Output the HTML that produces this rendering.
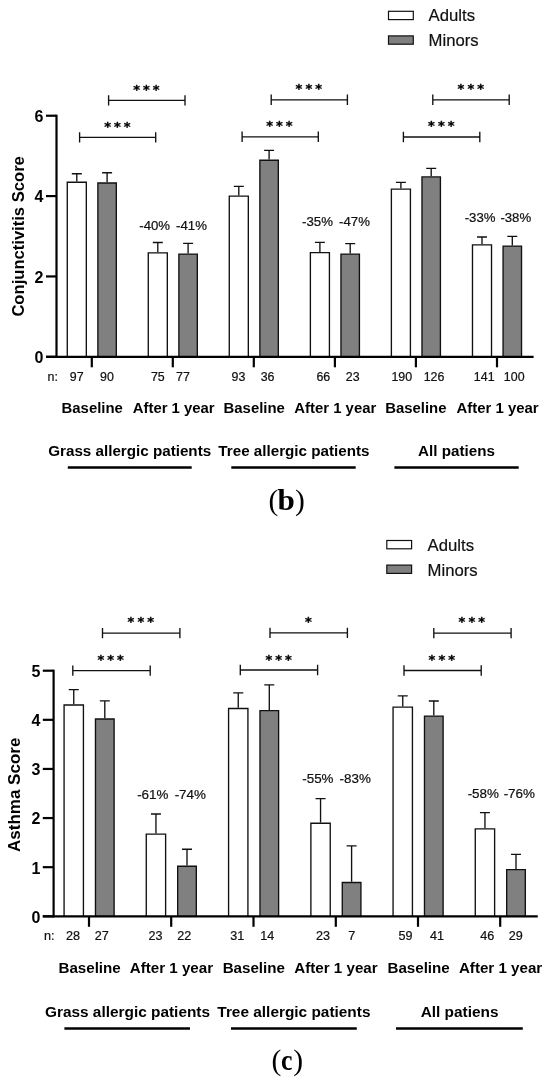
<!DOCTYPE html>
<html lang="en">
<head>
<meta charset="utf-8">
<title>Conjunctivitis and Asthma Score</title>
<style>
html,body{margin:0;padding:0;background:#fff;}
svg{display:block;}
text{font-family:"Liberation Sans",sans-serif;fill:#111;}
.yt{font-size:16px;font-weight:bold;fill:#000;}
.yl{font-size:16.6px;font-weight:bold;fill:#000;}
.xl{font-size:14.9px;font-weight:bold;fill:#000;}
.gl{font-size:15.2px;font-weight:bold;fill:#000;}
.nl{font-size:12.4px;stroke:#111;stroke-width:0.22px;}
.pc{font-size:13.2px;stroke:#111;stroke-width:0.22px;}
.lg{font-size:16.7px;stroke:#111;stroke-width:0.2px;}
.xl.b2{font-size:15.15px;}
.gl.b2{font-size:15.4px;}
.nl.b2{font-size:12.6px;}
.pc.b2{font-size:13.4px;}
.yl.b2{font-size:17px;}
.st{font-family:"DejaVu Sans",sans-serif;font-weight:bold;font-size:13px;letter-spacing:3.0px;fill:#000;stroke:#000;stroke-width:0.35px;}
.cp{font-family:"Liberation Serif",serif;font-size:29.5px;fill:#000;}
.cb{font-weight:bold;}
</style>
</head>
<body>
<svg width="550" height="1083" viewBox="0 0 550 1083">
<rect width="550" height="1083" fill="#ffffff"/>
<path d="M76.80 181.60V173.70M71.80 173.70H81.80" stroke="#111111" stroke-width="1.35" fill="none"/>
<path d="M67.27 356.80V182.28H86.33V356.80" fill="#ffffff" stroke="#111111" stroke-width="1.35"/>
<path d="M107.10 182.30V172.70M102.10 172.70H112.10" stroke="#111111" stroke-width="1.35" fill="none"/>
<path d="M97.88 356.80V182.98H116.33V356.80" fill="#808080" stroke="#111111" stroke-width="1.35"/>
<path d="M157.80 252.20V242.50M152.80 242.50H162.80" stroke="#111111" stroke-width="1.35" fill="none"/>
<path d="M148.28 356.80V252.88H167.32V356.80" fill="#ffffff" stroke="#111111" stroke-width="1.35"/>
<path d="M188.10 253.40V243.30M183.10 243.30H193.10" stroke="#111111" stroke-width="1.35" fill="none"/>
<path d="M178.88 356.80V254.08H197.32V356.80" fill="#808080" stroke="#111111" stroke-width="1.35"/>
<path d="M238.80 195.40V186.40M233.80 186.40H243.80" stroke="#111111" stroke-width="1.35" fill="none"/>
<path d="M229.28 356.80V196.08H248.32V356.80" fill="#ffffff" stroke="#111111" stroke-width="1.35"/>
<path d="M269.10 159.60V150.40M264.10 150.40H274.10" stroke="#111111" stroke-width="1.35" fill="none"/>
<path d="M259.88 356.80V160.28H278.32V356.80" fill="#808080" stroke="#111111" stroke-width="1.35"/>
<path d="M319.90 252.00V242.30M314.90 242.30H324.90" stroke="#111111" stroke-width="1.35" fill="none"/>
<path d="M310.38 356.80V252.68H329.42V356.80" fill="#ffffff" stroke="#111111" stroke-width="1.35"/>
<path d="M350.20 253.40V243.60M345.20 243.60H355.20" stroke="#111111" stroke-width="1.35" fill="none"/>
<path d="M340.97 356.80V254.08H359.42V356.80" fill="#808080" stroke="#111111" stroke-width="1.35"/>
<path d="M400.90 188.50V182.30M395.90 182.30H405.90" stroke="#111111" stroke-width="1.35" fill="none"/>
<path d="M391.38 356.80V189.18H410.42V356.80" fill="#ffffff" stroke="#111111" stroke-width="1.35"/>
<path d="M431.20 176.20V168.40M426.20 168.40H436.20" stroke="#111111" stroke-width="1.35" fill="none"/>
<path d="M421.97 356.80V176.88H440.42V356.80" fill="#808080" stroke="#111111" stroke-width="1.35"/>
<path d="M482.00 244.20V237.00M477.00 237.00H487.00" stroke="#111111" stroke-width="1.35" fill="none"/>
<path d="M472.48 356.80V244.88H491.52V356.80" fill="#ffffff" stroke="#111111" stroke-width="1.35"/>
<path d="M512.30 245.40V236.40M507.30 236.40H517.30" stroke="#111111" stroke-width="1.35" fill="none"/>
<path d="M503.07 356.80V246.08H521.53V356.80" fill="#808080" stroke="#111111" stroke-width="1.35"/>
<path d="M56.50 114.72V357.80" stroke="#000" stroke-width="2.2" fill="none"/>
<path d="M46.00 356.80H533.60" stroke="#000" stroke-width="2.2" fill="none"/>
<path d="M46.00 356.80H56.50" stroke="#000" stroke-width="2.2" fill="none"/>
<text class="yt" x="43.40" y="363.10" text-anchor="end">0</text>
<path d="M46.00 276.44H56.50" stroke="#000" stroke-width="2.2" fill="none"/>
<text class="yt" x="43.40" y="282.74" text-anchor="end">2</text>
<path d="M46.00 196.08H56.50" stroke="#000" stroke-width="2.2" fill="none"/>
<text class="yt" x="43.40" y="202.38" text-anchor="end">4</text>
<path d="M46.00 115.72H56.50" stroke="#000" stroke-width="2.2" fill="none"/>
<text class="yt" x="43.40" y="122.02" text-anchor="end">6</text>
<path d="M91.80 356.80V367.30" stroke="#000" stroke-width="2.2" fill="none"/>
<path d="M172.80 356.80V367.30" stroke="#000" stroke-width="2.2" fill="none"/>
<path d="M253.80 356.80V367.30" stroke="#000" stroke-width="2.2" fill="none"/>
<path d="M334.90 356.80V367.30" stroke="#000" stroke-width="2.2" fill="none"/>
<path d="M415.90 356.80V367.30" stroke="#000" stroke-width="2.2" fill="none"/>
<path d="M497.00 356.80V367.30" stroke="#000" stroke-width="2.2" fill="none"/>
<text class="yl" transform="translate(24.00 236.40) rotate(-90)" text-anchor="middle">Conjunctivitis Score</text>
<path d="M79.60 132.20V142.60M155.70 132.20V142.60M79.60 137.40H155.70" stroke="#111111" stroke-width="1.35" fill="none"/>
<text class="st" x="118.90" y="130.70" text-anchor="middle">***</text>
<path d="M108.60 95.20V105.60M185.00 95.20V105.60M108.60 100.40H185.00" stroke="#111111" stroke-width="1.35" fill="none"/>
<text class="st" x="147.90" y="93.60" text-anchor="middle">***</text>
<path d="M242.10 131.60V142.00M318.30 131.60V142.00M242.10 136.80H318.30" stroke="#111111" stroke-width="1.35" fill="none"/>
<text class="st" x="280.90" y="130.20" text-anchor="middle">***</text>
<path d="M271.20 94.60V105.00M347.40 94.60V105.00M271.20 99.80H347.40" stroke="#111111" stroke-width="1.35" fill="none"/>
<text class="st" x="310.30" y="93.20" text-anchor="middle">***</text>
<path d="M403.40 131.80V142.20M479.80 131.80V142.20M403.40 137.00H479.80" stroke="#111111" stroke-width="1.35" fill="none"/>
<text class="st" x="442.80" y="130.40" text-anchor="middle">***</text>
<path d="M432.80 94.60V105.00M509.20 94.60V105.00M432.80 99.80H509.20" stroke="#111111" stroke-width="1.35" fill="none"/>
<text class="st" x="472.30" y="93.20" text-anchor="middle">***</text>
<text class="pc" x="154.70" y="229.60" text-anchor="middle">-40%</text>
<text class="pc" x="191.50" y="229.60" text-anchor="middle">-41%</text>
<text class="pc" x="317.50" y="225.70" text-anchor="middle">-35%</text>
<text class="pc" x="354.50" y="225.70" text-anchor="middle">-47%</text>
<text class="pc" x="480.10" y="221.70" text-anchor="middle">-33%</text>
<text class="pc" x="515.80" y="221.70" text-anchor="middle">-38%</text>
<text class="nl" x="47.50" y="381.00" text-anchor="start">n:</text>
<text class="nl" x="76.70" y="381.00" text-anchor="middle">97</text>
<text class="nl" x="107.00" y="381.00" text-anchor="middle">90</text>
<text class="nl" x="157.80" y="381.00" text-anchor="middle">75</text>
<text class="nl" x="183.00" y="381.00" text-anchor="middle">77</text>
<text class="nl" x="238.50" y="381.00" text-anchor="middle">93</text>
<text class="nl" x="267.60" y="381.00" text-anchor="middle">36</text>
<text class="nl" x="323.30" y="381.00" text-anchor="middle">66</text>
<text class="nl" x="352.70" y="381.00" text-anchor="middle">23</text>
<text class="nl" x="401.80" y="381.00" text-anchor="middle">190</text>
<text class="nl" x="434.00" y="381.00" text-anchor="middle">126</text>
<text class="nl" x="484.20" y="381.00" text-anchor="middle">141</text>
<text class="nl" x="514.20" y="381.00" text-anchor="middle">100</text>
<text class="xl" x="92.20" y="412.80" text-anchor="middle">Baseline</text>
<text class="xl" x="173.70" y="412.80" text-anchor="middle">After 1 year</text>
<text class="xl" x="254.20" y="412.80" text-anchor="middle">Baseline</text>
<text class="xl" x="335.30" y="412.80" text-anchor="middle">After 1 year</text>
<text class="xl" x="415.80" y="412.80" text-anchor="middle">Baseline</text>
<text class="xl" x="497.60" y="412.80" text-anchor="middle">After 1 year</text>
<text class="gl" x="129.70" y="456.20" text-anchor="middle">Grass allergic patients</text>
<path d="M67.80 467.40H191.70" stroke="#000" stroke-width="2.5" fill="none"/>
<text class="gl" x="293.90" y="456.20" text-anchor="middle">Tree allergic patients</text>
<path d="M231.30 467.40H355.70" stroke="#000" stroke-width="2.5" fill="none"/>
<text class="gl" x="456.50" y="456.20" text-anchor="middle">All patiens</text>
<path d="M394.40 467.40H518.70" stroke="#000" stroke-width="2.5" fill="none"/>
<rect x="388.50" y="11.30" width="24.8" height="8.3" fill="#fff" stroke="#111111" stroke-width="1.2"/>
<rect x="388.50" y="35.90" width="24.8" height="8.3" fill="#808080" stroke="#111111" stroke-width="1.2"/>
<text class="lg" x="428.60" y="20.90" text-anchor="start">Adults</text>
<text class="lg" x="428.60" y="45.90" text-anchor="start">Minors</text>
<text class="cp" x="268.60" y="509.60">(</text>
<text class="cp cb" transform="translate(277.60 509.60) scale(1.08 1)" style="font-size:28.8px">b</text>
<text class="cp" x="295.00" y="509.60">)</text>
<path d="M73.75 704.30V689.60M68.75 689.60H78.75" stroke="#111111" stroke-width="1.35" fill="none"/>
<path d="M64.08 916.30V704.97H83.42V916.30" fill="#ffffff" stroke="#111111" stroke-width="1.35"/>
<path d="M104.80 718.30V700.80M99.80 700.80H109.80" stroke="#111111" stroke-width="1.35" fill="none"/>
<path d="M95.47 916.30V718.97H114.12V916.30" fill="#808080" stroke="#111111" stroke-width="1.35"/>
<path d="M155.95 833.40V814.00M150.95 814.00H160.95" stroke="#111111" stroke-width="1.35" fill="none"/>
<path d="M146.28 916.30V834.07H165.62V916.30" fill="#ffffff" stroke="#111111" stroke-width="1.35"/>
<path d="M187.00 865.60V849.20M182.00 849.20H192.00" stroke="#111111" stroke-width="1.35" fill="none"/>
<path d="M177.68 916.30V866.27H196.32V916.30" fill="#808080" stroke="#111111" stroke-width="1.35"/>
<path d="M238.25 707.80V692.80M233.25 692.80H243.25" stroke="#111111" stroke-width="1.35" fill="none"/>
<path d="M228.58 916.30V708.47H247.92V916.30" fill="#ffffff" stroke="#111111" stroke-width="1.35"/>
<path d="M269.30 710.00V684.90M264.30 684.90H274.30" stroke="#111111" stroke-width="1.35" fill="none"/>
<path d="M259.98 916.30V710.67H278.62V916.30" fill="#808080" stroke="#111111" stroke-width="1.35"/>
<path d="M320.55 822.60V798.60M315.55 798.60H325.55" stroke="#111111" stroke-width="1.35" fill="none"/>
<path d="M310.88 916.30V823.27H330.23V916.30" fill="#ffffff" stroke="#111111" stroke-width="1.35"/>
<path d="M351.60 881.80V845.80M346.60 845.80H356.60" stroke="#111111" stroke-width="1.35" fill="none"/>
<path d="M342.28 916.30V882.47H360.93V916.30" fill="#808080" stroke="#111111" stroke-width="1.35"/>
<path d="M402.75 706.40V695.90M397.75 695.90H407.75" stroke="#111111" stroke-width="1.35" fill="none"/>
<path d="M393.07 916.30V707.07H412.43V916.30" fill="#ffffff" stroke="#111111" stroke-width="1.35"/>
<path d="M433.80 715.40V701.00M428.80 701.00H438.80" stroke="#111111" stroke-width="1.35" fill="none"/>
<path d="M424.48 916.30V716.07H443.12V916.30" fill="#808080" stroke="#111111" stroke-width="1.35"/>
<path d="M484.95 828.20V812.60M479.95 812.60H489.95" stroke="#111111" stroke-width="1.35" fill="none"/>
<path d="M475.27 916.30V828.88H494.62V916.30" fill="#ffffff" stroke="#111111" stroke-width="1.35"/>
<path d="M516.00 869.00V854.30M511.00 854.30H521.00" stroke="#111111" stroke-width="1.35" fill="none"/>
<path d="M506.68 916.30V869.67H525.33V916.30" fill="#808080" stroke="#111111" stroke-width="1.35"/>
<path d="M53.60 669.70V917.30" stroke="#000" stroke-width="2.2" fill="none"/>
<path d="M42.80 916.30H537.80" stroke="#000" stroke-width="2.2" fill="none"/>
<path d="M42.80 916.30H53.60" stroke="#000" stroke-width="2.2" fill="none"/>
<text class="yt" x="40.50" y="922.70" text-anchor="end">0</text>
<path d="M42.80 867.18H53.60" stroke="#000" stroke-width="2.2" fill="none"/>
<text class="yt" x="40.50" y="873.58" text-anchor="end">1</text>
<path d="M42.80 818.06H53.60" stroke="#000" stroke-width="2.2" fill="none"/>
<text class="yt" x="40.50" y="824.46" text-anchor="end">2</text>
<path d="M42.80 768.94H53.60" stroke="#000" stroke-width="2.2" fill="none"/>
<text class="yt" x="40.50" y="775.34" text-anchor="end">3</text>
<path d="M42.80 719.82H53.60" stroke="#000" stroke-width="2.2" fill="none"/>
<text class="yt" x="40.50" y="726.22" text-anchor="end">4</text>
<path d="M42.80 670.70H53.60" stroke="#000" stroke-width="2.2" fill="none"/>
<text class="yt" x="40.50" y="677.10" text-anchor="end">5</text>
<path d="M89.00 916.30V926.80" stroke="#000" stroke-width="2.2" fill="none"/>
<path d="M171.20 916.30V926.80" stroke="#000" stroke-width="2.2" fill="none"/>
<path d="M253.50 916.30V926.80" stroke="#000" stroke-width="2.2" fill="none"/>
<path d="M335.80 916.30V926.80" stroke="#000" stroke-width="2.2" fill="none"/>
<path d="M418.00 916.30V926.80" stroke="#000" stroke-width="2.2" fill="none"/>
<path d="M500.20 916.30V926.80" stroke="#000" stroke-width="2.2" fill="none"/>
<text class="yl b2" transform="translate(20.00 794.80) rotate(-90)" text-anchor="middle">Asthma Score</text>
<path d="M72.80 665.40V675.80M150.20 665.40V675.80M72.80 670.60H150.20" stroke="#111111" stroke-width="1.35" fill="none"/>
<text class="st" x="112.20" y="664.20" text-anchor="middle">***</text>
<path d="M102.50 627.90V638.30M179.90 627.90V638.30M102.50 633.10H179.90" stroke="#111111" stroke-width="1.35" fill="none"/>
<text class="st" x="142.30" y="626.30" text-anchor="middle">***</text>
<path d="M240.30 664.80V675.20M317.60 664.80V675.20M240.30 670.00H317.60" stroke="#111111" stroke-width="1.35" fill="none"/>
<text class="st" x="280.10" y="663.60" text-anchor="middle">***</text>
<path d="M270.00 627.70V638.10M347.40 627.70V638.10M270.00 632.90H347.40" stroke="#111111" stroke-width="1.35" fill="none"/>
<text class="st" x="309.90" y="626.10" text-anchor="middle">*</text>
<path d="M404.00 665.30V675.70M481.20 665.30V675.70M404.00 670.50H481.20" stroke="#111111" stroke-width="1.35" fill="none"/>
<text class="st" x="443.30" y="663.80" text-anchor="middle">***</text>
<path d="M433.80 627.90V638.30M511.10 627.90V638.30M433.80 633.10H511.10" stroke="#111111" stroke-width="1.35" fill="none"/>
<text class="st" x="473.30" y="626.10" text-anchor="middle">***</text>
<text class="pc b2" x="152.80" y="799.00" text-anchor="middle">-61%</text>
<text class="pc b2" x="190.30" y="799.00" text-anchor="middle">-74%</text>
<text class="pc b2" x="317.90" y="782.90" text-anchor="middle">-55%</text>
<text class="pc b2" x="355.20" y="782.90" text-anchor="middle">-83%</text>
<text class="pc b2" x="483.30" y="797.90" text-anchor="middle">-58%</text>
<text class="pc b2" x="519.30" y="797.90" text-anchor="middle">-76%</text>
<text class="nl b2" x="44.00" y="940.30" text-anchor="start">n:</text>
<text class="nl b2" x="73.00" y="940.30" text-anchor="middle">28</text>
<text class="nl b2" x="101.80" y="940.30" text-anchor="middle">27</text>
<text class="nl b2" x="155.50" y="940.30" text-anchor="middle">23</text>
<text class="nl b2" x="184.30" y="940.30" text-anchor="middle">22</text>
<text class="nl b2" x="237.30" y="940.30" text-anchor="middle">31</text>
<text class="nl b2" x="267.20" y="940.30" text-anchor="middle">14</text>
<text class="nl b2" x="323.10" y="940.30" text-anchor="middle">23</text>
<text class="nl b2" x="351.80" y="940.30" text-anchor="middle">7</text>
<text class="nl b2" x="405.50" y="940.30" text-anchor="middle">59</text>
<text class="nl b2" x="437.00" y="940.30" text-anchor="middle">41</text>
<text class="nl b2" x="487.30" y="940.30" text-anchor="middle">46</text>
<text class="nl b2" x="515.80" y="940.30" text-anchor="middle">29</text>
<text class="xl b2" x="89.60" y="972.80" text-anchor="middle">Baseline</text>
<text class="xl b2" x="171.40" y="972.80" text-anchor="middle">After 1 year</text>
<text class="xl b2" x="253.80" y="972.80" text-anchor="middle">Baseline</text>
<text class="xl b2" x="336.00" y="972.80" text-anchor="middle">After 1 year</text>
<text class="xl b2" x="418.60" y="972.80" text-anchor="middle">Baseline</text>
<text class="xl b2" x="500.60" y="972.80" text-anchor="middle">After 1 year</text>
<text class="gl b2" x="127.50" y="1017.00" text-anchor="middle">Grass allergic patients</text>
<path d="M64.40 1028.40H190.00" stroke="#000" stroke-width="2.5" fill="none"/>
<text class="gl b2" x="293.90" y="1017.00" text-anchor="middle">Tree allergic patients</text>
<path d="M231.00 1028.40H356.80" stroke="#000" stroke-width="2.5" fill="none"/>
<text class="gl b2" x="459.60" y="1017.00" text-anchor="middle">All patiens</text>
<path d="M396.00 1028.40H522.80" stroke="#000" stroke-width="2.5" fill="none"/>
<rect x="386.80" y="540.50" width="24.8" height="8.3" fill="#fff" stroke="#111111" stroke-width="1.2"/>
<rect x="386.80" y="565.10" width="24.8" height="8.3" fill="#808080" stroke="#111111" stroke-width="1.2"/>
<text class="lg" x="427.60" y="550.80" text-anchor="start">Adults</text>
<text class="lg" x="427.60" y="575.80" text-anchor="start">Minors</text>
<text class="cp" x="271.50" y="1070.20">(</text>
<text class="cp cb" transform="translate(281.00 1070.20) scale(0.86 1)" style="font-size:30px">c</text>
<text class="cp" x="293.20" y="1070.20">)</text>
</svg>
</body>
</html>
